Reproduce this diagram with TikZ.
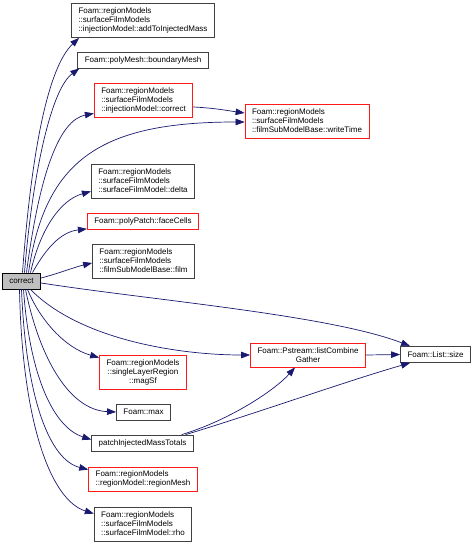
\documentclass[tikz,border=0pt]{standalone}
\usepackage{fontspec}
\setmainfont{Liberation Sans}
\usetikzlibrary{arrows.meta,calc}
\definecolor{edgeblue}{RGB}{25,25,112}
\definecolor{boxgray}{RGB}{64,64,64}
\definecolor{fillgray}{RGB}{191,191,191}
\tikzset{
  fn/.style={draw=boxgray, line width=0.8pt, fill=white, inner xsep=7pt, inner ysep=0pt,
    align=left, font=\fontsize{8}{9}\selectfont, minimum height=16pt},
  fnred/.style={fn, draw=red!90!white},
  three/.style={minimum height=34pt},
  two/.style={minimum height=24pt},
  cur/.style={fn, draw=black, fill=fillgray},
  link/.style={draw=edgeblue, line width=0.7pt, -{Triangle[length=9pt,width=6.5pt]}},
}
\begin{document}
\begin{tikzpicture}[x=1pt,y=-1pt]
\useasboundingbox (0,0) rectangle (474,545);
% nodes
\node[cur] (correct) at (21.5,281) {correct};
\node[fn,three] (addto) at (143,20.5) {Foam::regionModels\\::surfaceFilmModels\\::injectionModel::addToInjectedMass};
\node[fn] (bmesh) at (143,60) {Foam::polyMesh::boundaryMesh};
\node[fnred,three] (injcorr) at (143.5,100) {Foam::regionModels\\::surfaceFilmModels\\::injectionModel::correct};
\node[fnred,three] (wtime) at (307,121) {Foam::regionModels\\::surfaceFilmModels\\::filmSubModelBase::writeTime};
\node[fn,three] (delta) at (143,181) {Foam::regionModels\\::surfaceFilmModels\\::surfaceFilmModel::delta};
\node[fnred] (facecells) at (143,221.5) {Foam::polyPatch::faceCells};
\node[fn,three] (film) at (143.5,261) {Foam::regionModels\\::surfaceFilmModels\\::filmSubModelBase::film};
\node[fnred,three,align=center] (magsf) at (143,372) {Foam::regionModels\\::singleLayerRegion\\::magSf};
\node[fn] (max) at (143.5,412) {Foam::max};
\node[fn] (patch) at (142.5,443) {patchInjectedMassTotals};
\node[fnred,two] (rmesh) at (143,479) {Foam::regionModels\\::regionModel::regionMesh};
\node[fn,three] (rho) at (143,524) {Foam::regionModels\\::surfaceFilmModels\\::surfaceFilmModel::rho};
\node[fnred,two,align=center] (lcg) at (308,355) {Foam::Pstream::listCombine\\Gather};
\node[fn] (size) at (435.5,354.5) {Foam::List::size};
% edges
\draw[link] ($(correct.north)+(1,0)$) .. controls (30,170) and (45,70) .. ($(addto.south west)+(8,0)$);
\draw[link] ($(correct.north)+(3,0)$) .. controls (32,180) and (50,90) .. ($(bmesh.south west)+(2,0)$);
\draw[link] ($(correct.north)+(5,0)$) .. controls (40,170) and (60,120) .. ($(injcorr.south west)+(0,-4)$);
\draw[link] ($(correct.north)+(7,0)$) .. controls (45,160) and (100,122) .. ($(wtime.west)+(0,1)$);
\draw[link] ($(correct.north)+(9,0)$) .. controls (40,230) and (60,200) .. ($(delta.south west)+(0,-7)$);
\draw[link] ($(correct.north)+(11,0)$) .. controls (45,250) and (60,232) .. ($(facecells.south west)+(0,-1)$);
\draw[link] ($(correct.east)+(0,-3)$) .. controls (60,273) and (75,267) .. ($(film.west)+(0,2)$);
\draw[link] ($(correct.east)+(0,2)$) .. controls (150,300) and (330,315) .. ($(size.north west)+(10,0)$);
\draw[link] ($(correct.south)+(9,0)$) .. controls (80,340) and (180,355) .. (lcg.west);
\draw[link] ($(correct.south)+(6,0)$) .. controls (40,320) and (65,348) .. ($(magsf.north west)+(0,3)$);
\draw[link] ($(correct.south)+(4,0)$) .. controls (40,360) and (70,410) .. (max.west);
\draw[link] ($(correct.south)+(2,0)$) .. controls (30,380) and (55,428) .. ($(patch.north west)+(0,5)$);
\draw[link] ($(correct.south)+(0,0)$) .. controls (26,400) and (50,460) .. ($(rmesh.north west)+(0,3)$);
\draw[link] ($(correct.south)+(-2,0)$) .. controls (22,420) and (50,500) .. ($(rho.north west)+(0,7)$);
\draw[link] ($(injcorr.east)+(0,7)$) .. controls (215,108) and (230,111) .. ($(wtime.west)+(0,-8)$);
\draw[link] (lcg.east) -- (size.west);
\draw[link] ($(patch.north east)+(-12,0)$) .. controls (230,420) and (275,390) .. ($(lcg.south)+(-13,0)$);
\draw[link] ($(patch.north east)+(-8,0)$) .. controls (260,412) and (350,380) .. ($(size.south west)+(10,0)$);
\end{tikzpicture}
\end{document}
